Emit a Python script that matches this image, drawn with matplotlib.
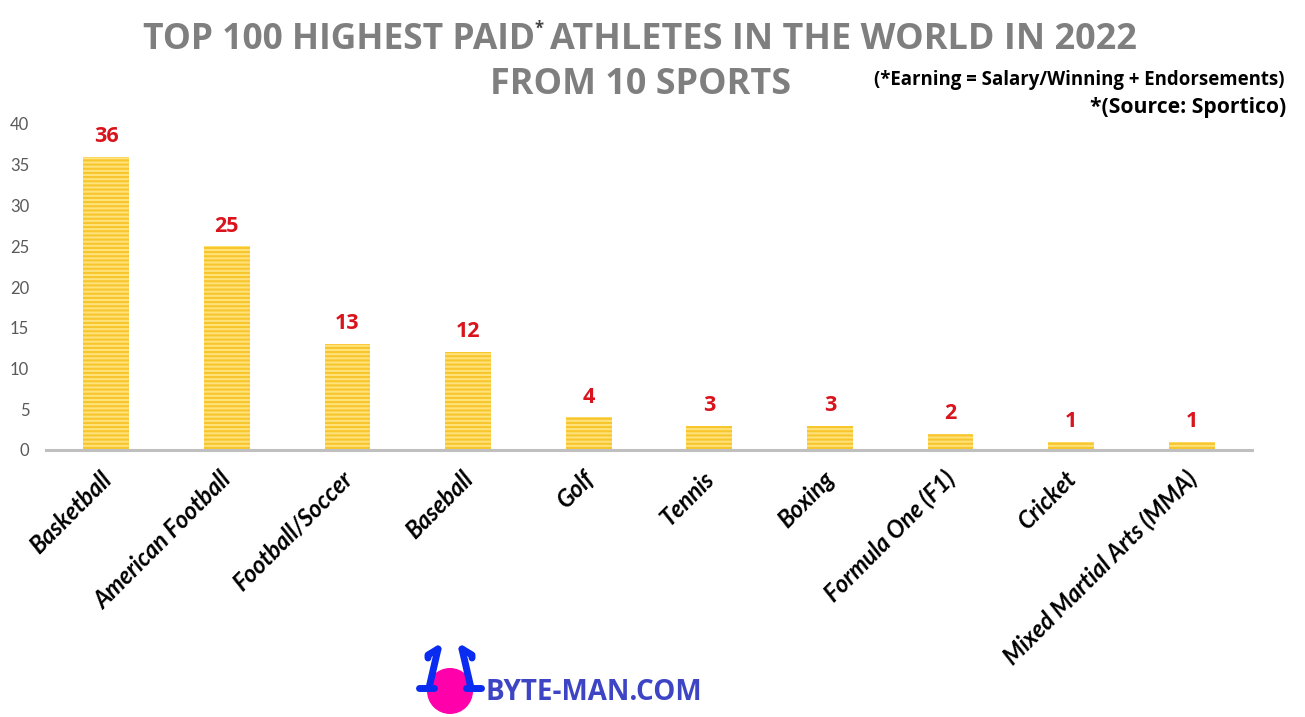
import matplotlib
matplotlib.use("Agg")
import matplotlib.pyplot as plt
from matplotlib.patches import Circle
from matplotlib.transforms import ScaledTranslation

categories = ["Basketball", "American Football", "Football/Soccer", "Baseball", "Golf",
              "Tennis", "Boxing", "Formula One (F1)", "Cricket", "Mixed Martial Arts (MMA)"]
athletes = [36, 25, 13, 12, 4, 3, 3, 2, 1, 1]
y_ticks = [0, 5, 10, 15, 20, 25, 30, 35, 40]

W, H = 1305, 717
plt.rcParams['hatch.linewidth'] = 1.5
fig = plt.figure(figsize=(W / 100, H / 100), dpi=100, facecolor="white")
ax = fig.add_axes([46 / W, 1 - 450 / H, (1252 - 46) / W, (450 - 124) / H])

x = range(len(categories))
ax.bar(x, athletes, width=0.38, color="#FFE27A", edgecolor="#F7C52C", hatch="----", linewidth=0)
for i, v in zip(x, athletes):
    ax.annotate(str(v), (i, v), xytext=(0, 7), textcoords="offset points", ha="center", va="bottom",
                color="#D9141C", fontsize=15.5, fontweight="bold", family="Open Sans")

ax.set_xlim(-0.5, 9.5)
ax.set_ylim(0, 40)
ax.set_yticks(y_ticks)
ax.set_xticks(list(x))
ax.tick_params(axis="x", length=0, pad=8)
ax.tick_params(axis="y", length=0, pad=12, labelsize=12, labelcolor="#595959")
ax.set_xticklabels(categories, rotation=45, ha="right", rotation_mode="anchor",
                   fontsize=17, fontweight="bold", fontstyle="italic", family="Lato", color="black")
shift = ScaledTranslation(-7 / 100, -6 / 100, fig.dpi_scale_trans)
for lab in ax.get_xticklabels():
    lab.set_transform(lab.get_transform() + shift)
for lab in ax.get_yticklabels():
    lab.set_family("Lato")
for s in ["top", "right", "left"]:
    ax.spines[s].set_visible(False)
ax.spines["bottom"].set_color("#BFBFBF")
ax.spines["bottom"].set_linewidth(2.2)

def px(xp, yp):
    return xp / W, 1 - yp / H

title_kw = dict(color="#7F7F7F", fontweight="bold", family="Open Sans", va="center")
fig.text(*px(143, 40), "TOP 100 HIGHEST PAID", ha="left", fontsize=25.5, **title_kw)
fig.text(*px(1137, 40), "ATHLETES IN THE WORLD IN 2022", ha="right", fontsize=25.9, **title_kw)
fig.text(*px(640, 85), "FROM 10 SPORTS", ha="center", fontsize=25.8, **title_kw)
fig.text(*px(539, 29), "*", color="#444444", fontsize=12, fontweight="bold", family="Open Sans", ha="center", va="center")
fig.text(*px(1284, 80), "(*Earning = Salary/Winning + Endorsements)", color="black", fontsize=13.4,
         fontweight="bold", family="Open Sans", ha="right", va="center")
fig.text(*px(1286, 108), "*(Source: Sportico)", color="black", fontsize=15.2,
         fontweight="bold", family="Open Sans", ha="right", va="center")

# logo overlay in pixel coordinates
ov = fig.add_axes([0, 0, 1, 1], facecolor="none")
ov.set_xlim(0, W)
ov.set_ylim(H, 0)
ov.axis("off")
ov.add_patch(Circle((450, 691), 23, color="#FF00AA", lw=0))
blue = "#0A2BF0"
stroke = dict(color=blue, lw=5.0, solid_capstyle="round", solid_joinstyle="round")
ov.plot([438, 429], [649, 688], **stroke)
ov.plot([419, 434], [688, 688], **stroke)
ov.plot([438, 428, 428], [649, 655, 658], **stroke)
ov.plot([462, 471], [649, 688], **stroke)
ov.plot([466, 481], [688, 688], **stroke)
ov.plot([462, 472, 472], [649, 655, 658], **stroke)
ov.text(486, 692, "BYTE-MAN.COM", color="#3D45C4", fontsize=20, fontweight="bold", family="Open Sans",
        ha="left", va="center")

fig.savefig("out.png", dpi=100)
